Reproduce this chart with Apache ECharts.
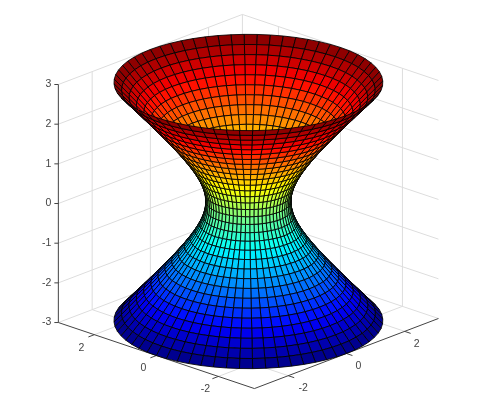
<!DOCTYPE html>
<html><head><meta charset="utf-8">
<script src="https://cdn.jsdelivr.net/npm/echarts@6/dist/echarts.min.js"></script>
<style>html,body{margin:0;padding:0;background:#fff}#c{width:501px;height:410px;filter:blur(0.45px)}</style>
</head><body><div id="c"></div>
<script>
var zLevels=[-3,-2.8125,-2.625,-2.4375,-2.25,-2.0625,-1.875,-1.6875,-1.5,-1.3125,-1.125,-0.9375,-0.75,-0.5625,-0.375,-0.1875,0,0.1875,0.375,0.5625,0.75,0.9375,1.125,1.3125,1.5,1.6875,1.875,2.0625,2.25,2.4375,2.625,2.8125,3];
var radii=[3.1623,2.985,2.809,2.6347,2.4622,2.2921,2.125,1.9615,1.8028,1.65,1.5052,1.3707,1.25,1.1473,1.068,1.0174,1,1.0174,1.068,1.1473,1.25,1.3707,1.5052,1.65,1.8028,1.9615,2.125,2.2921,2.4622,2.6347,2.809,2.985,3.1623];
var thetaDeg=[0,5.625,11.25,16.875,22.5,28.125,33.75,39.375,45,50.625,56.25,61.875,67.5,73.125,78.75,84.375,90,95.625,101.25,106.875,112.5,118.125,123.75,129.375,135,140.625,146.25,151.875,157.5,163.125,168.75,174.375,180,185.625,191.25,196.875,202.5,208.125,213.75,219.375,225,230.625,236.25,241.875,247.5,253.125,258.75,264.375,270,275.625,281.25,286.875,292.5,298.125,303.75,309.375,315,320.625,326.25,331.875,337.5,343.125,348.75,354.375,360];
var xTicks=[-2,0,2];
var yTicks=[-2,0,2];
var zTicks=[-3,-2,-1,0,1,2,3];
var hLimit=3.1623;

function project(a,b,z){return [248.4+29.1*b-31*a,201.5-39.67*z-10.44*a-11.08*b];}
function nearness(a,b,z){return -(1154*a+1230*b)+647*z;}
function jet(v){function c(x){return Math.round(255*Math.max(0,Math.min(1,x)));}
  return 'rgb('+c(1.5-Math.abs(4*v-3))+','+c(1.5-Math.abs(4*v-2))+','+c(1.5-Math.abs(4*v-1))+')';}
function pt(i,j){var t=thetaDeg[j]*Math.PI/180,r=radii[i];return [r*Math.sin(t),r*Math.cos(t),zLevels[i]];}

var quads=[];
for(var i=0;i<zLevels.length-1;i++)for(var j=0;j<thetaDeg.length-1;j++){
  var p=[pt(i,j),pt(i,j+1),pt(i+1,j+1),pt(i+1,j)],n=0;
  p.forEach(function(q){n+=nearness(q[0],q[1],q[2])/4;});
  quads.push([i,j,n]);
}
quads.sort(function(a,b){return a[2]-b[2];});

var L=hLimit,gridSegs=[];
zTicks.forEach(function(z){gridSegs.push([L,-L,z,L,L,z]);gridSegs.push([-L,L,z,L,L,z]);});
xTicks.forEach(function(x){gridSegs.push([L,x,-3,L,x,3]);gridSegs.push([-L,x,-3,L,x,-3]);});
yTicks.forEach(function(y){gridSegs.push([y,L,-3,y,L,3]);gridSegs.push([y,-L,-3,y,L,-3]);});
gridSegs.push([L,L,-3,L,L,3]);
var axisSegs=[[L,-L,-3,L,-L,3],[L,-L,-3,-L,-L,-3],[-L,-L,-3,-L,L,-3]];
var labels=[];
yTicks.forEach(function(t){labels.push([t,-L,-3,String(t),-13,13,'center',-6,2.3]);});
xTicks.forEach(function(t){labels.push([-L,t,-3,String(t),t<0?15:12,12.5,'center',6,2]);});
zTicks.forEach(function(t){labels.push([L,-L,t,String(t),-7,0,'right',-4,0]);});

function lineRender(color,w){return function(params,api){
  var a=api.coord(project(api.value(0),api.value(1),api.value(2)));
  var b=api.coord(project(api.value(3),api.value(4),api.value(5)));
  return {type:'line',shape:{x1:a[0],y1:a[1],x2:b[0],y2:b[1]},style:{stroke:color,lineWidth:w}};
};}

var option={
  animation:false,
  grid:{left:0,right:0,top:0,bottom:0},
  xAxis:{type:'value',min:0,max:501,show:false},
  yAxis:{type:'value',min:0,max:410,inverse:true,show:false},
  series:[
   {type:'custom',silent:true,clip:false,z:1,data:gridSegs,renderItem:lineRender('#dddddd',1)},
   {type:'custom',silent:true,clip:false,z:2,data:axisSegs,renderItem:lineRender('#444',1)},
   {type:'custom',silent:true,clip:false,z:3,data:labels.map(function(d,i){return i;}),renderItem:function(params,api){
      var d=labels[params.dataIndex],p=api.coord(project(d[0],d[1],d[2]));
      return {type:'group',children:[
        {type:'line',shape:{x1:p[0],y1:p[1],x2:p[0]+d[7],y2:p[1]+d[8]},style:{stroke:'#444',lineWidth:1}},
        {type:'text',style:{x:p[0]+d[4],y:p[1]+d[5],text:d[3],fill:'#444',font:'10.5px "Liberation Sans",Arial,sans-serif',textAlign:d[6],textVerticalAlign:'middle'}}
      ]};
   }},
   {type:'custom',silent:true,clip:false,z:4,data:quads,renderItem:function(params,api){
      var i=api.value(0),j=api.value(1);
      var pts=[pt(i,j),pt(i,j+1),pt(i+1,j+1),pt(i+1,j)].map(function(q){return api.coord(project(q[0],q[1],q[2]));});
      var v=((zLevels[i]+zLevels[i+1])/2+3)/6;
      return {type:'polygon',shape:{points:pts},style:{fill:jet(v),stroke:'#000',lineWidth:0.85,lineJoin:'round'}};
   }}
  ]
};
echarts.init(document.getElementById('c'),null,{renderer:'canvas'}).setOption(option);
</script></body></html>
